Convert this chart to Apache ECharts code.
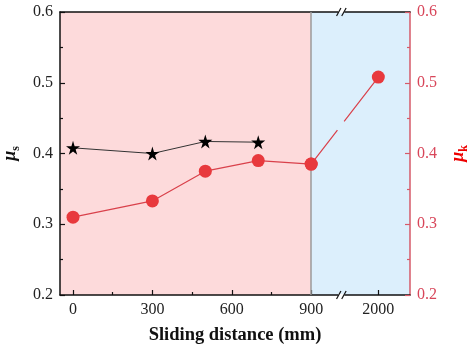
<!DOCTYPE html>
<html>
<head>
<meta charset="utf-8">
<script src="https://cdn.jsdelivr.net/npm/echarts@6/dist/echarts.min.js"></script>
<style>
  html, body { margin: 0; padding: 0; background: #fff; }
  #chart { width: 474px; height: 351px; }
</style>
</head>
<body>
<div id="chart"></div>
<script>
// sliding distance (mm) and friction coefficients
const distS = [0, 300, 500, 700];
const muS = [0.408, 0.400, 0.417, 0.416];
const distK = [0, 300, 500, 700, 900, 2000];
const muK = [0.310, 0.333, 0.375, 0.390, 0.385, 0.508];
// x axis ticks (mm)
const tickDist = [0, 300, 600, 900, 2000];
const minorDist = [150, 450, 750];
const tickLabels = ['0', '300', '600', '900', '2000'];

// broken axis: 300 mm per unit up to 900, compressed after the break
function pos(d) {
  return d <= 900 ? d / 300 : 3 + (d - 900) / 1300;
}
const xMin = -0.164, xMax = 4.245, breakPos = 3.38;

const FONT = '"Liberation Serif", "DejaVu Serif", serif';
const RED = '#e8393d';
const AXIS_RED = '#d65a68';

let chart = echarts.init(document.getElementById('chart'));

const xBase = {
  type: 'value',
  min: xMin,
  max: xMax,
  z: 3,
  splitLine: { show: false },
  axisLine: { show: true, onZero: false, lineStyle: { color: '#111', width: 1.5 } }
};

function nameRich(color) {
  return {
    a: { fontFamily: FONT, fontSize: 18, fontStyle: 'italic', fontWeight: 'bold', color: color, lineHeight: 24, verticalAlign: 'middle' },
    b: { fontFamily: FONT, fontSize: 12, fontWeight: 'bold', color: color, lineHeight: 24, verticalAlign: 'bottom' }
  };
}

let option = {
  animation: false,
  grid: { left: 60, right: 64, top: 12, bottom: 56, containLabel: false, outerBoundsMode: 'none' },
  xAxis: [
    Object.assign({}, xBase, {
      position: 'bottom',
      name: 'Sliding distance (mm)',
      nameLocation: 'middle',
      nameGap: 31,
      nameTextStyle: { fontFamily: FONT, fontSize: 18.5, fontWeight: 'bold', color: '#111' },
      axisTick: { inside: true, length: 5, customValues: tickDist.map(pos), lineStyle: { color: '#111', width: 1.2 } },
      axisLabel: {
        customValues: tickDist.map(pos),
        fontFamily: FONT, fontSize: 16, color: '#222', margin: 7,
        formatter: function (v) {
          let i = tickDist.map(pos).findIndex(p => Math.abs(p - v) < 1e-6);
          return i >= 0 ? tickLabels[i] : '';
        }
      }
    }),
    Object.assign({}, xBase, {
      position: 'bottom',
      axisLine: { show: false },
      axisTick: { inside: true, length: 3, customValues: minorDist.map(pos), lineStyle: { color: '#111', width: 1.2 } },
      axisLabel: { show: false }
    }),
    Object.assign({}, xBase, {
      position: 'top',
      axisTick: { show: false },
      axisLabel: { show: false }
    })
  ],
  yAxis: [
    {
      type: 'value', min: 0.2, max: 0.6, interval: 0.1, position: 'left', z: 3,
      splitLine: { show: false },
      axisLine: { show: true, onZero: false, lineStyle: { color: '#111', width: 1.5 } },
      axisTick: { inside: true, length: 5, lineStyle: { color: '#111', width: 1.2 } },
      minorTick: { show: true, splitNumber: 2, length: 3, lineStyle: { color: '#111', width: 1.2 } },
      axisLabel: { fontFamily: FONT, fontSize: 16, color: '#222', margin: 7, formatter: v => v.toFixed(1) },
      name: '{a|μ}{b|s}',
      nameLocation: 'middle',
      nameRotate: 90,
      nameGap: 29,
      nameTextStyle: { rich: nameRich('#111') }
    },
    {
      type: 'value', min: 0.2, max: 0.6, interval: 0.1, position: 'right', z: 3,
      splitLine: { show: false },
      axisLine: { show: true, onZero: false, lineStyle: { color: AXIS_RED, width: 1.5 } },
      axisTick: { inside: true, length: 5, lineStyle: { color: AXIS_RED, width: 1.2 } },
      minorTick: { show: true, splitNumber: 2, length: 3, lineStyle: { color: AXIS_RED, width: 1.2 } },
      axisLabel: { fontFamily: FONT, fontSize: 16, color: '#d8465a', margin: 7, formatter: v => v.toFixed(1) },
      name: '{a|μ}{b|k}',
      nameLocation: 'middle',
      nameRotate: 90,
      nameGap: 36,
      nameTextStyle: { rich: nameRich('#e00') }
    }
  ],
  series: [
    {
      name: 'bg',
      type: 'line',
      data: [],
      z: 1,
      markArea: {
        silent: true,
        data: [
          [{ xAxis: xMin, itemStyle: { color: '#fddadb' } }, { xAxis: pos(900) }],
          [{ xAxis: pos(900), itemStyle: { color: '#dceffc' } }, { xAxis: xMax }]
        ]
      },
      markLine: {
        silent: true,
        symbol: 'none',
        label: { show: false },
        lineStyle: { color: '#9a9a9a', width: 1.5, type: 'solid' },
        data: [{ xAxis: pos(900) }]
      }
    },
    {
      name: 'mu_s',
      type: 'line',
      yAxisIndex: 0,
      data: distS.map((d, i) => [pos(d), muS[i]]),
      symbol: 'path://M50,0 L61,35 L98,35 L68,57 L79,91 L50,70 L21,91 L32,57 L2,35 L39,35 Z',
      symbolSize: 14,
      itemStyle: { color: '#000' },
      lineStyle: { color: '#333', width: 1 },
      z: 5
    },
    {
      name: 'mu_k',
      type: 'line',
      yAxisIndex: 1,
      data: distK.slice(0, 5).map((d, i) => [pos(d), muK[i]]),
      symbol: 'circle',
      symbolSize: 13,
      itemStyle: { color: RED },
      lineStyle: { color: '#d9414b', width: 1.2 },
      z: 5
    },
    {
      name: 'mu_k_break',
      type: 'line',
      yAxisIndex: 1,
      data: distK.slice(4).map((d, i) => [pos(d), muK[i + 4]]),
      symbol: 'circle',
      symbolSize: 13,
      itemStyle: { color: RED },
      lineStyle: { color: '#d9414b', width: 1.2, type: [43, 11, 200] },
      z: 5
    }
  ]
};

chart.setOption(option);

// axis break marks on top and bottom frame
const bx = chart.convertToPixel({ xAxisIndex: 0 }, breakPos);
const yTop = chart.convertToPixel({ yAxisIndex: 0 }, 0.6);
const yBot = chart.convertToPixel({ yAxisIndex: 0 }, 0.2);
let g = [];
[yTop, yBot].forEach(y => {
  g.push({ type: 'rect', z: 100, shape: { x: bx - 3, y: y - 1.2, width: 6, height: 2.4 }, style: { fill: '#fff' } });
  [-2.6, 2.6].forEach(dx => {
    g.push({
      type: 'line', z: 101,
      shape: { x1: bx + dx - 2.2, y1: y + 4, x2: bx + dx + 2.2, y2: y - 4 },
      style: { stroke: '#111', lineWidth: 1.2 }
    });
  });
});
chart.setOption({ graphic: g });
</script>
</body>
</html>
